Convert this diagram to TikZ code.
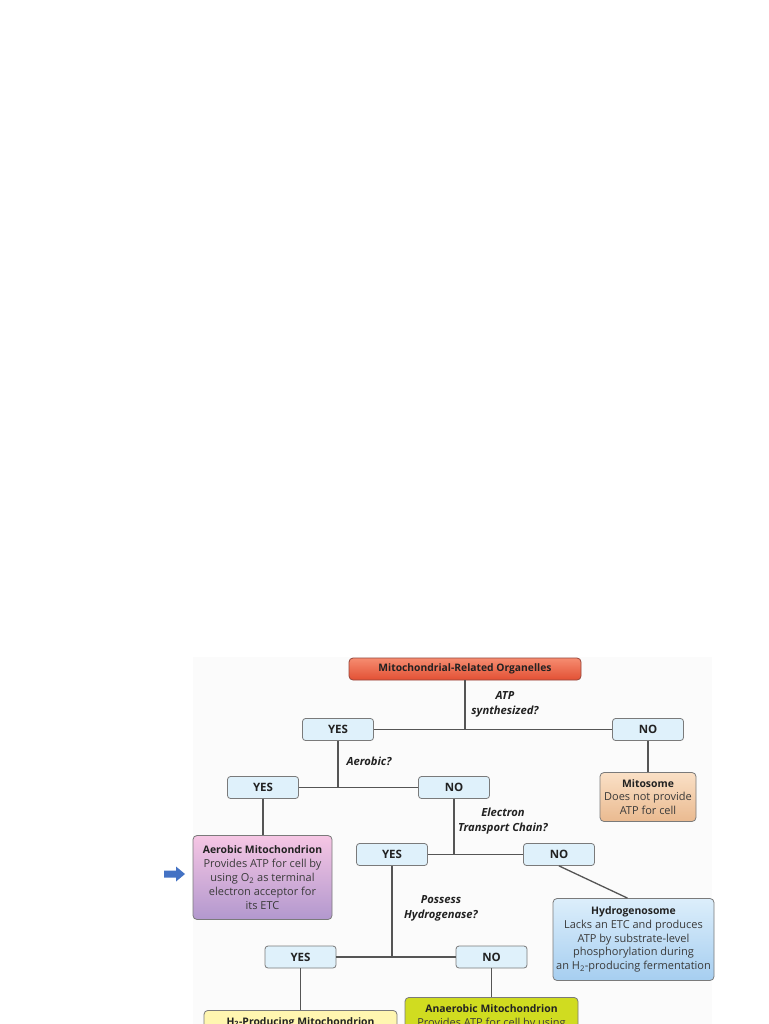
\documentclass[tikz,border=0pt]{standalone}
\usepackage{fontspec}
\setmainfont{Open Sans}
\definecolor{linegray}{HTML}{7A7A7A}
\definecolor{connc}{HTML}{555555}
\definecolor{ansfill}{HTML}{DFF1FB}
\definecolor{textgray}{HTML}{3A3A3A}
\definecolor{headc}{HTML}{222222}
\definecolor{arrowblue}{HTML}{4472C4}
\newcommand{\hd}[1]{{\fontsize{10.4}{13.8}\selectfont\bfseries\textcolor{headc}{#1}}}
\tikzset{
 ans/.style={draw=linegray, line width=0.8pt, rounded corners=3pt, fill=ansfill, minimum width=71, minimum height=22, inner sep=0pt, font=\fontsize{11.5}{12}\selectfont\bfseries, text=headc},
 res/.style={draw=linegray, line width=0.8pt, rounded corners=4pt, inner sep=0pt, align=center, font=\fontsize{11}{13.8}\selectfont, text=textgray},
 conn/.style={draw=connc, line width=1.3pt},
 quest/.style={font=\fontsize{11.2}{15}\selectfont\bfseries\itshape, align=center, text=headc, inner sep=0pt},
}
\begin{document}
\begin{tikzpicture}[x=1pt,y=-1pt]
\useasboundingbox (0,0) rectangle (768,1024);
\clip (0,0) rectangle (768,1024);
\fill[white] (0,0) rectangle (768,1024);
\fill[black!1.5] (193,657) rectangle (712,1024);

% top
\node[res, minimum width=232, minimum height=22, top color={rgb,255:red,246;green,140;blue,112}, bottom color={rgb,255:red,226;green,80;blue,52}, font=\fontsize{10.3}{12}\selectfont\bfseries, text=headc, draw={rgb,255:red,150;green,70;blue,60}] (top) at (465,669) {Mitochondrial-Related Organelles};
\node[quest] (q1) at (505,704) {ATP\\synthesized?};

\node[ans] (yes1) at (338,729.5) {YES};
\node[ans] (no1) at (648,729.5) {NO};
\node[quest] (q2) at (369,761) {Aerobic?};

\node[ans] (yes2) at (263,787.5) {YES};
\node[ans] (no2) at (454,787.5) {NO};

\node[res, minimum width=96, minimum height=49, top color={rgb,255:red,250;green,224;blue,198}, bottom color={rgb,255:red,234;green,186;blue,144}] (mito) at (648,797) {\hd{Mitosome}\\Does not provide\\ATP for cell};

\node[quest] (q3) at (503,821.5) {Electron\\Transport Chain?};

\node[res, minimum width=139, minimum height=84, top color={rgb,255:red,246;green,198;blue,228}, bottom color={rgb,255:red,178;green,152;blue,206}] (aer) at (262.5,877.5) {\hd{Aerobic Mitochondrion}\\Provides ATP for cell by\\using O\textsubscript{2} as terminal\\electron acceptor for\\its ETC};

\node[ans] (yes3) at (392,854.5) {YES};
\node[ans] (no3) at (559,854.5) {NO};

\node[res, minimum width=161, minimum height=82, top color={rgb,255:red,220;green,238;blue,251}, bottom color={rgb,255:red,166;green,206;blue,240}] (hyd) at (633.5,939.5) {\hd{Hydrogenosome}\\Lacks an ETC and produces\\ATP by substrate-level\\phosphorylation during\\an H\textsubscript{2}-producing fermentation};

\node[quest] (q4) at (441,908.5) {Possess\\Hydrogenase?};

\node[ans] (yes4) at (300.5,957) {YES};
\node[ans] (no4) at (491.5,957) {NO};

\node[res, minimum width=193, minimum height=80, fill={rgb,255:red,255;green,246;blue,176}, anchor=north] (h2) at (300.5,1010) {};
\node[anchor=base, inner sep=0pt] (h2t) at (300.5,1025) {\hd{H\textsubscript{2}-Producing Mitochondrion}};

\node[res, minimum width=173, minimum height=80, fill={rgb,255:red,208;green,220;blue,32}, anchor=north] (ana) at (491.5,997) {};
\node[anchor=base, inner sep=0pt] (anat) at (491.5,1012) {\hd{Anaerobic Mitochondrion}};
\node[font=\fontsize{11}{13.8}\selectfont, text=textgray, anchor=base, inner sep=0pt] (anab) at (491.5,1026) {Provides ATP for cell by using};

% connectors
\draw[conn] (top.south) -- (top.south |- yes1.east);
\draw[conn] (yes1.east) -- (no1.west);
\draw[conn] (no1.south) -- (no1.south |- mito.north);
\draw[conn] (yes1.south) -- (yes1.south |- yes2.east);
\draw[conn] (yes2.east) -- (no2.west);
\draw[conn] (yes2.south) -- (yes2.south |- aer.north);
\draw[conn] (no2.south) -- (no2.south |- yes3.east);
\draw[conn] (yes3.east) -- (no3.west);
\draw[conn] (no3.south) -- ([xshift=-6pt]hyd.north);
\draw[conn] (yes3.south) -- (yes3.south |- yes4.east);
\draw[conn] (yes4.east) -- (no4.west);
\draw[conn] (yes4.south) -- (h2.north);
\draw[conn] (no4.south) -- (ana.north);

% blue arrow
\coordinate (arS) at (164,874);
\coordinate (arE) at (185,874);
\fill[arrowblue] (arS) ++(0,-3.5) -- ++(12,0) -- ++(0,-4) -- (arE) -- (176,881.5) -- ++(0,-4) -- (164,877.5) -- cycle;
\end{tikzpicture}
\end{document}
